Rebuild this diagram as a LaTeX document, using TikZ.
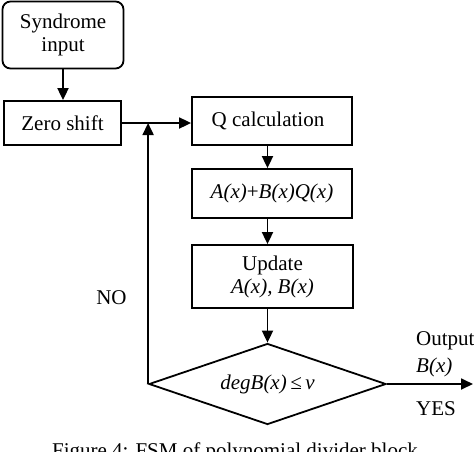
\documentclass[tikz,border=0pt]{standalone}
\usepackage{fontspec}
\setmainfont{Liberation Serif}
\usetikzlibrary{arrows.meta}
\usetikzlibrary{shapes.geometric}
\newcommand{\TS}{\fontsize{21}{23}\selectfont}
\newcommand{\lw}{1.8pt}

\begin{document}
\begin{tikzpicture}[x=1pt,y=-1pt,
    block/.style={draw=black,line width=\lw,align=center,inner sep=0pt,font=\TS},
    flow/.style={line width=\lw,-{Triangle[length=12pt,width=11pt]}},
    lbl/.style={font=\TS,inner sep=0pt}]
    \useasboundingbox (0,0) rectangle (474,451);

    % blocks
    \node[block,rounded corners=8pt,minimum width=121pt,minimum height=67pt] (syn) at (63,35) {Syndrome\\input};
    \node[block,minimum width=117pt,minimum height=44pt] (zero) at (62.5,123) {Zero shift};
    \node[block,minimum width=160pt,minimum height=48pt] (qcalc) at (272,121) {Q calculation\hspace*{8pt}};
    \node[block,minimum width=160pt,minimum height=49pt] (sum) at (272,193.5) {\textit{A(x)}+\textit{B(x)Q(x)}};
    \node[block,minimum width=161pt,minimum height=63pt] (upd) at (272.5,276.5) {Update\\\textit{A(x), B(x)}};
    \node[block,diamond,shape aspect=2.9,minimum width=237pt,minimum height=81pt] (dia) at (267.5,384) {\textit{degB(x)\,≤\,v}};
    \coordinate (out) at (473,384);

    % arrows
    \draw[flow] (syn.south) -- (syn.south |- zero.north);
    \draw[flow] (zero.east) -- (zero.east -| qcalc.west);
    \draw[flow] (qcalc.south -| dia.north) -- (sum.north -| dia.north);
    \draw[flow] (sum.south -| dia.north) -- (upd.north -| dia.north);
    \draw[flow] (upd.south -| dia.north) -- (dia.north);
    \draw[flow] (dia.west) -- (dia.west |- zero.east);
    \draw[flow] (dia.east) -- (out);

    % labels
    \node[lbl] (no) at (111.5,298) {NO};
    \node[lbl,anchor=west] (outp) at (416,341) {Output};
    \node[lbl,anchor=west] (bx) at (416,367) {\textit{B(x)}};
    \node[lbl] (yes) at (436,409) {YES};
    \node[lbl,anchor=base] (cap) at (235,457) {Figure 4: FSM of polynomial divider block};
\end{tikzpicture}
\end{document}
